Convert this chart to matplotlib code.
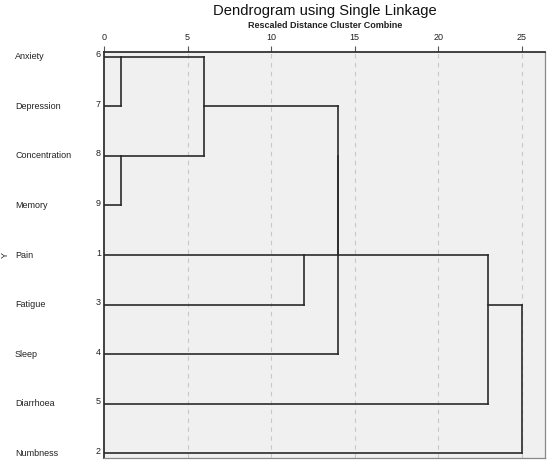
import matplotlib
matplotlib.use("Agg")
import matplotlib.pyplot as plt
import matplotlib.transforms as mtransforms

plt.rcParams['font.family'] = ['Liberation Sans', 'DejaVu Sans']

# Data
leaf_names = ["Anxiety", "Depression", "Concentration", "Memory", "Pain",
              "Fatigue", "Sleep", "Diarrhoea", "Numbness"]
case_numbers = [6, 7, 8, 9, 1, 3, 4, 5, 2]
# merges: (child a, child b, rescaled distance); new cluster ids start at 9
merge_a = [0, 2, 9, 4, 11, 13, 14, 15]
merge_b = [1, 3, 10, 5, 12, 6, 7, 8]
merge_dist = [1, 1, 6, 12, 14, 14, 23, 25]
xticks = [0, 5, 10, 15, 20, 25]

fig = plt.figure(figsize=(5.5, 4.62), dpi=100)
ax = fig.add_axes([104/550, 1-458/462, (545-104)/550, (458-52)/462])
ax.set_facecolor('#f0f0f0')

n = len(leaf_names)
pos = {i: i for i in range(n)}
birth = {i: 0 for i in range(n)}
lc = '#2b2b2b'
lw = 1.2
for k, (a, b, d) in enumerate(zip(merge_a, merge_b, merge_dist)):
    new = n + k
    for c in (a, b):
        ax.plot([birth[c], d], [pos[c], pos[c]], color=lc, lw=lw, solid_capstyle='projecting', zorder=3)
    ax.plot([d, d], [pos[a], pos[b]], color=lc, lw=lw, solid_capstyle='projecting', zorder=3)
    pos[new] = (pos[a] + pos[b]) // 2
    birth[new] = d

for t in xticks[1:]:
    ax.axvline(t, color='#c8c8c8', lw=0.8, ls=(0, (4, 4)), zorder=1)

ax.set_xlim(0, 26.4)
ax.set_ylim(8.1, -0.1)
ax.xaxis.tick_top()
ax.set_xticks(xticks)
ax.set_xticklabels([str(t) for t in xticks], fontsize=6.5, color='#222222')
ax.tick_params(axis='x', length=4, width=0.8, color='#555555', pad=3)
ax.set_yticks([])

for s in ('left', 'top'):
    ax.spines[s].set_color('#333333')
    ax.spines[s].set_linewidth(1.3)
for s in ('right', 'bottom'):
    ax.spines[s].set_color('#888888')
    ax.spines[s].set_linewidth(0.9)

name_tr = mtransforms.blended_transform_factory(fig.transFigure, ax.transData)
num_tr = mtransforms.blended_transform_factory(fig.transFigure, ax.transData) + \
    mtransforms.Affine2D().translate(0, 2)
for i, (name, num) in enumerate(zip(leaf_names, case_numbers)):
    ax.text(15/550, i, name, transform=name_tr, fontsize=6.5, ha='left', va='center',
            color='#222222', clip_on=False)
    ax.text(101/550, i, str(num), transform=num_tr, fontsize=6.5, ha='right', va='center',
            color='#222222', clip_on=False)

fig.text(5/550, 1-255/462, 'Y', rotation=90, fontsize=6.5, ha='center', va='center', color='#222222')
fig.text(325/550, 1-11/462, 'Dendrogram using Single Linkage', fontsize=10.6,
         ha='center', va='center', color='#111111')
fig.text(325/550, 1-25/462, 'Rescaled Distance Cluster Combine', fontsize=6.5, fontweight='bold',
         ha='center', va='center', color='#222222')

fig.savefig('out.png', dpi=100)
